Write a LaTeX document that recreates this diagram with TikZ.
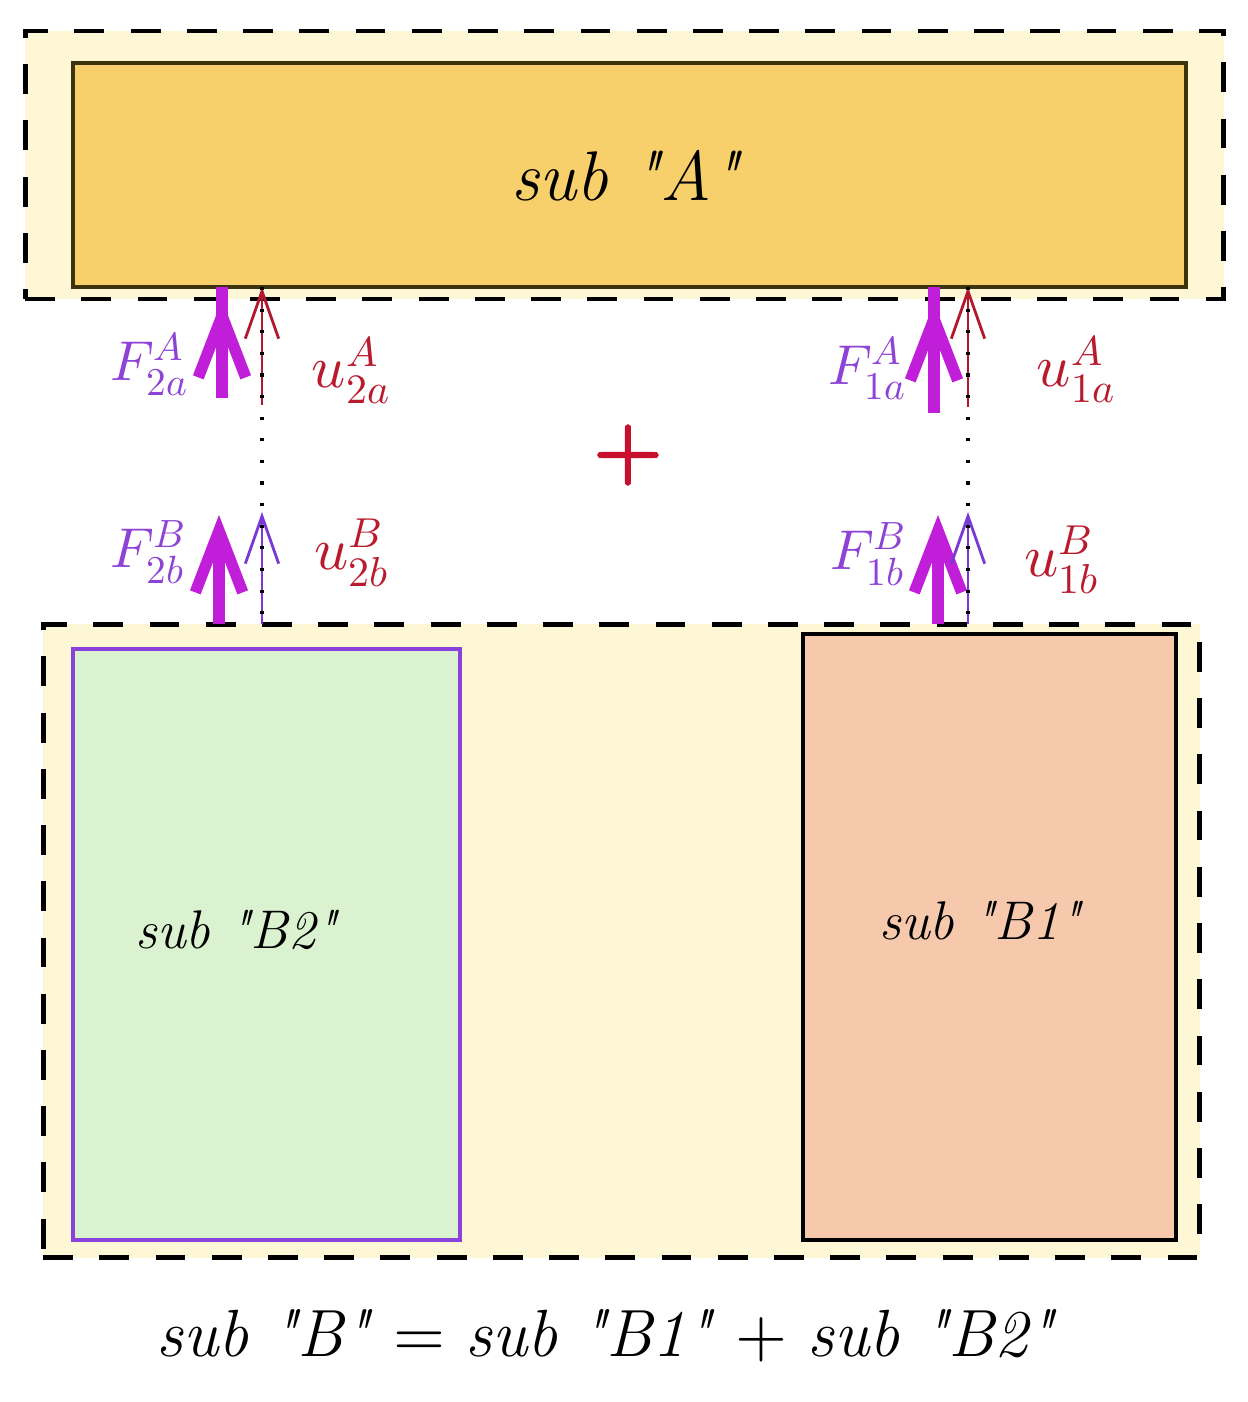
\documentclass[tikz,border=0pt]{standalone}
\usepackage{fontspec}
\usepackage{unicode-math}
\setmainfont{Latin Modern Roman}[Ligatures=TeXOff]
\usetikzlibrary{arrows.meta}
\definecolor{paleyellow}{HTML}{FDF7D6}
\definecolor{orangefill}{HTML}{F7CF6B}
\definecolor{olivedark}{HTML}{3D330C}
\definecolor{greenfill}{HTML}{DAF2D0}
\definecolor{violetline}{HTML}{8A42DC}
\definecolor{peachfill}{HTML}{F6C9AD}
\definecolor{magentaarrow}{HTML}{C01ED8}
\definecolor{darkredline}{HTML}{B2182E}
\definecolor{thinpurple}{HTML}{7A38D6}
\definecolor{labelpurple}{HTML}{8E42D6}
\definecolor{labelred}{HTML}{BA1A2E}
\definecolor{plusred}{HTML}{C8102E}
\tikzset{
  region/.style={draw=black, fill=paleyellow, line width=2.8pt, dash pattern=on 17pt off 15pt, inner sep=0pt, outer sep=0pt},
  subbox/.style={line width=2.2pt, inner sep=0pt, outer sep=0pt},
  forcearrow/.style={draw=magentaarrow, line width=6.5pt, -{Straight Barb[length=35pt,width=27pt]}},
  forceshaft/.style={draw=magentaarrow, line width=6.5pt},
  disparrow/.style={line width=1.6pt, -{Straight Barb[length=27pt,width=19pt]}},
  dotline/.style={draw=black, line width=1.8pt, dash pattern=on 1.8pt off 10.5pt},
  flabel/.style={text=labelpurple, font=\fontsize{32}{38}\selectfont, inner sep=0pt},
  ulabel/.style={text=labelred, font=\fontsize{34}{40}\selectfont, inner sep=0pt},
  boxtext/.style={font=\fontsize{31}{36}\selectfont\itshape, inner sep=0pt},
}
\begin{document}
\begin{tikzpicture}[x=0.02cm, y=-0.02cm]
\useasboundingbox[fill=white] (0,0) rectangle (1247,1402);

% regions
\node[region, minimum width=23.98cm, minimum height=5.36cm] (regA) at (624.5,165) {};
\node[region, minimum width=23.14cm, minimum height=12.68cm] (regB) at (621.5,941) {};

% sub-structure boxes
\node[subbox, draw=olivedark, fill=orangefill, minimum width=22.26cm, minimum height=4.48cm] (A) at (629.5,175) {};
\node[font=\fontsize{40}{46}\selectfont\itshape, inner sep=0pt] (Atext) at (625,176) {sub "A"};
\node[subbox, draw=violetline, fill=greenfill, minimum width=7.74cm, minimum height=11.82cm] (B2) at (266.5,944.5) {};
\node[subbox, draw=black, fill=peachfill, minimum width=7.46cm, minimum height=12.12cm] (B1) at (989.5,937) {};
\node[boxtext] (B2text) at (236,930) {sub "B2"};
\node[boxtext] (B1text) at (980,921) {sub "B1"};

% arrow anchor coordinates
\coordinate (fa2) at (222,398);
\coordinate (fa2tip) at (222,300);
\coordinate (ua2) at (262,405);
\coordinate (fb2) at (219,627);
\coordinate (fb2tip) at (219,515);
\coordinate (ub2tip) at (262,512);
\coordinate (fa1) at (934,413);
\coordinate (fa1tip) at (934,303);
\coordinate (ua1) at (968,407);
\coordinate (fb1) at (938,627);
\coordinate (fb1tip) at (938,515);
\coordinate (ub1tip) at (968,512);

% left pair
\draw[forceshaft] (fa2) -- (fa2 |- A.south);
\draw[forcearrow] (fa2) -- (fa2tip);
\draw[disparrow, draw=darkredline] (ua2) -- (ua2 |- A.south);
\draw[forcearrow] (fb2 |- regB.north) -- (fb2tip);
\draw[disparrow, draw=thinpurple] (ub2tip |- regB.north) -- (ub2tip);
\draw[dotline] (ua2 |- A.south) -- (ua2 |- regB.north);

% right pair
\draw[forceshaft] (fa1) -- (fa1 |- A.south);
\draw[forcearrow] (fa1) -- (fa1tip);
\draw[disparrow, draw=darkredline] (ua1) -- (ua1 |- A.south);
\draw[forcearrow] (fb1 |- regB.north) -- (fb1tip);
\draw[disparrow, draw=thinpurple] (ub1tip |- regB.north) -- (ub1tip);
\draw[dotline] (ua1 |- A.south) -- (ua1 |- regB.north);

% labels
\node[flabel] (lF2a) at (149,364) {$F^{A}_{2a}$};
\node[ulabel] (lu2a) at (351,370) {$u^{A}_{2a}$};
\node[flabel] (lF2b) at (148,552) {$F^{B}_{2b}$};
\node[ulabel] (lu2b) at (352,553) {$u^{B}_{2b}$};
\node[flabel] (lF1a) at (867,368) {$F^{A}_{1a}$};
\node[ulabel] (lu1a) at (1076,369) {$u^{A}_{1a}$};
\node[flabel] (lF1b) at (868,554) {$F^{B}_{1b}$};
\node[ulabel] (lu1b) at (1062,560) {$u^{B}_{1b}$};

% plus sign
\node[text=plusred, font=\fontsize{53}{56}\selectfont\addfontfeature{FakeBold=3}, inner sep=0pt] (plus) at (628,455) {+};

% equation
\node[font=\fontsize{38}{44}\selectfont, inner sep=0pt] (eq) at (607,1336) {\textit{sub "B"} $=$ \textit{sub "B1"} $+$ \textit{sub "B2"}};
\end{tikzpicture}
\end{document}
